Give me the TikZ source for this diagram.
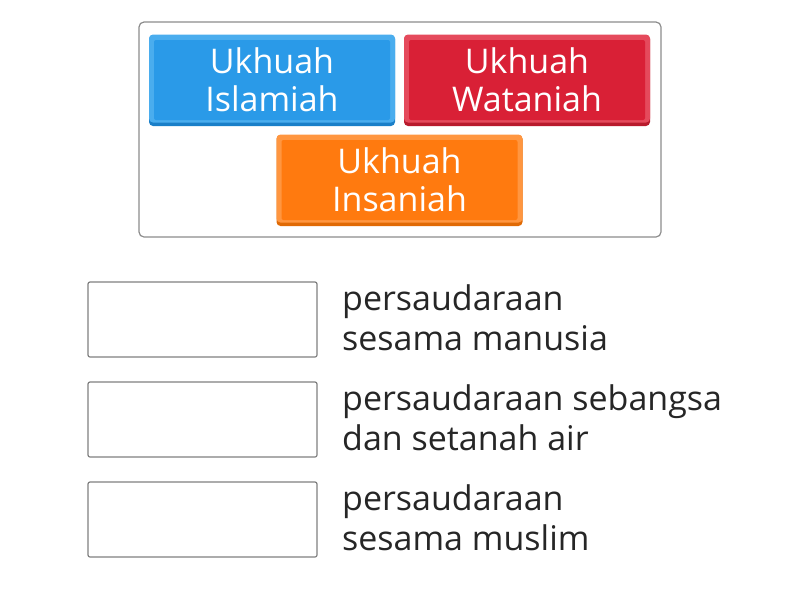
\documentclass[tikz,border=0pt]{standalone}
\usepackage{fontspec}
\setmainfont{Open Sans}
\begin{document}
\begin{tikzpicture}[x=1pt,y=-1pt,
  tile/.style={rounded corners=4pt, minimum width=246pt, minimum height=91pt, inner sep=0pt, text=white, font=\fontsize{34}{38}\selectfont, align=center},
  answerbox/.style={draw=black!50, line width=1.2pt, rounded corners=2pt, minimum width=229pt, minimum height=75pt, inner sep=0pt},
  cluetext/.style={anchor=west, font=\fontsize{34}{40}\selectfont, text=black!85, align=left, inner sep=0pt}]
\useasboundingbox (0,0) rectangle (800,600);
\definecolor{tblue}{HTML}{2A9AE8}
\definecolor{tbluel}{HTML}{4AADEE}
\definecolor{tblued}{HTML}{1A7FC8}
\definecolor{tred}{HTML}{D92036}
\definecolor{tredl}{HTML}{E54A5C}
\definecolor{tredd}{HTML}{B81A2C}
\definecolor{torange}{HTML}{FF7A0F}
\definecolor{torangel}{HTML}{FF9640}
\definecolor{toranged}{HTML}{E06A05}
\node[draw=black!45, line width=1.2pt, rounded corners=5pt, minimum width=522pt, minimum height=215pt, inner sep=0pt] (frame) at (400,129.5) {};
% tiles
\node[tile, fill=tblued] (b0) at (272,80.5) {};
\node[tile, fill=tbluel, minimum height=88pt, minimum width=246pt] (b1) at (272,78.5) {};
\node[tile, fill=tblue, rounded corners=2pt, minimum width=236pt, minimum height=80pt] (blue) at (272,80) {Ukhuah\\Islamiah};
\node[tile, fill=tredd] (r0) at (527,80.5) {};
\node[tile, fill=tredl, minimum height=88pt] (r1) at (527,78.5) {};
\node[tile, fill=tred, rounded corners=2pt, minimum width=236pt, minimum height=80pt] (red) at (527,80) {Ukhuah\\Wataniah};
\node[tile, fill=toranged] (o0) at (399.5,180.5) {};
\node[tile, fill=torangel, minimum height=88pt] (o1) at (399.5,178.5) {};
\node[tile, fill=torange, rounded corners=2pt, minimum width=236pt, minimum height=80pt] (orange) at (399.5,180) {Ukhuah\\Insaniah};
% answer boxes
\node[answerbox] (a1) at (202.5,319.5) {};
\node[answerbox] (a2) at (202.5,419.5) {};
\node[answerbox] (a3) at (202.5,519.5) {};
\node[cluetext] (c1) at (342,318) {persaudaraan\\sesama manusia};
\node[cluetext] (c2) at (342,418) {persaudaraan sebangsa\\dan setanah air};
\node[cluetext] (c3) at (342,518) {persaudaraan\\sesama muslim};
\end{tikzpicture}
\end{document}
